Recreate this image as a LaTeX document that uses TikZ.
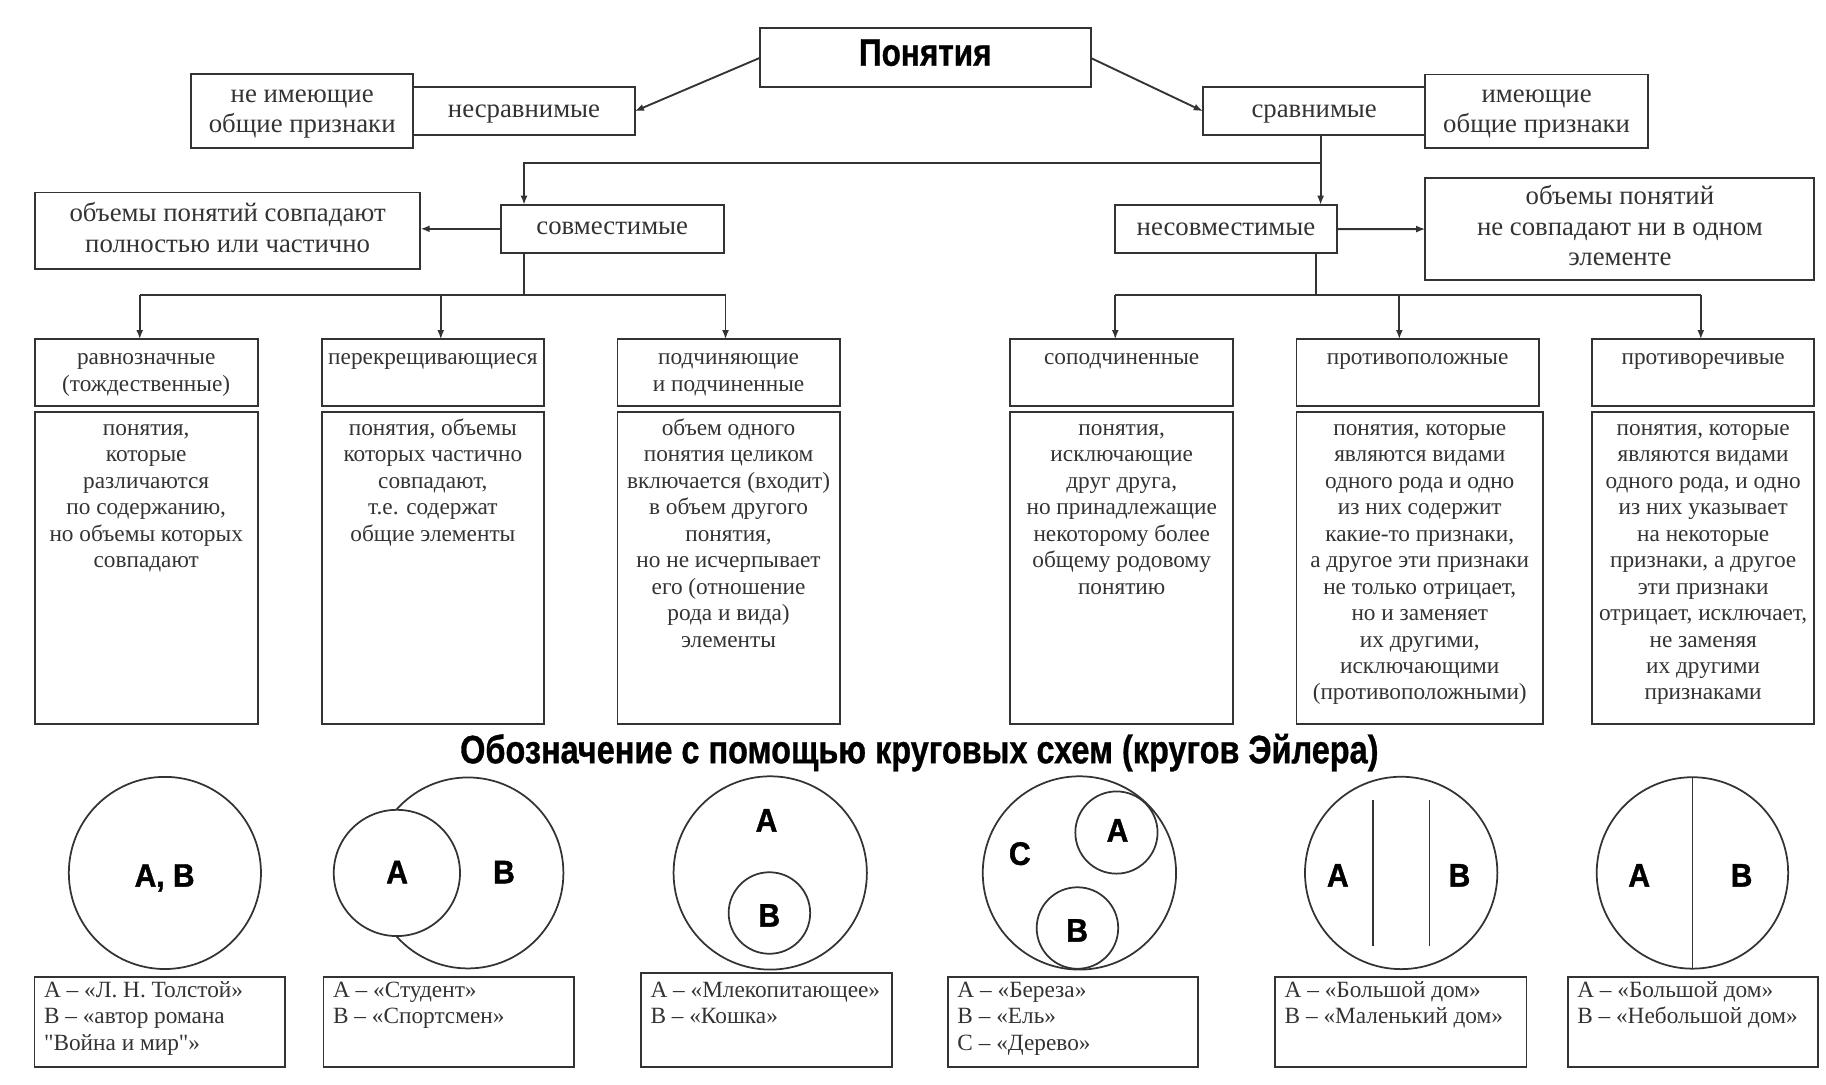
\documentclass[tikz,border=0pt]{standalone}
\usepackage{fontspec}
\setmainfont{Liberation Serif}[Ligatures=TeXOff]
\newfontfamily\condsans[FakeStretch=0.82, FakeBold=0.8]{Liberation Sans}
\newfontfamily\lettersans[FakeStretch=0.92, FakeBold=1.2]{Liberation Sans}
\usetikzlibrary{arrows.meta,positioning,calc}
\definecolor{ink}{HTML}{333333}
\newcommand{\bigtxt}{\fontsize{23}{26.2}\selectfont}
\newcommand{\smalltxt}{\fontsize{20}{22.7}\selectfont}
\newcommand{\tallline}{\rule{0pt}{18.3pt}}
\newcommand{\lowline}{\rule[-7.9pt]{0pt}{7.9pt}}
\newcommand{\smline}{\rule{0pt}{15.9pt}}

\begin{document}
\begin{tikzpicture}[
        x=1pt, y=-1pt,
        frame/.style={rectangle, draw=ink, line width=1.6pt, inner sep=0pt, outer sep=0pt, text=ink, align=center},
        topbox/.style={frame, font=\bigtxt},
        headbox/.style={frame, minimum height=57.2pt},
        bodybox/.style={frame, minimum height=268.5pt},
        capbox/.style={frame, minimum width=215pt, minimum height=77.4pt},
        boxtext/.style={anchor=north, inner sep=0pt, align=center, text=ink, font=\smalltxt},
        captext/.style={anchor=north west, inner sep=0pt, align=left, text=ink, font=\smalltxt},
        link/.style={draw=ink, line width=1.6pt},
        euler/.style={draw=ink, line width=1.5pt},
        letter/.style={font=\lettersans\bfseries\fontsize{28}{28}\selectfont, inner sep=0pt, text height=20pt, text depth=0pt},
        >={Latex[length=8pt,width=6pt]}
    ]
        \useasboundingbox (0,0) rectangle (1568,931);

        \node[frame, minimum width=284pt, minimum height=50.7pt, text=black, text height=23.5pt, text depth=10pt, font=\condsans\bfseries\fontsize{33}{33}\selectfont] (concept) at (794.5,49.7) {Понятия};
        \node[topbox, minimum width=190pt, minimum height=41pt] (incomp) at (450,95.5) {\tallline несравнимые\lowline};
        \node[topbox, minimum width=191pt, minimum height=63.5pt, left=0pt of incomp] (nocommon) {\tallline не имеющие\\общие признаки\lowline};
        \node[topbox, minimum width=191pt, minimum height=41pt] (comp) at (1128.5,95.5) {\tallline сравнимые\lowline};
        \node[topbox, minimum width=191pt, minimum height=63pt, right=0pt of comp] (common) {\tallline имеющие\\общие признаки\lowline};

        \node[topbox, minimum width=191.5pt, minimum height=41pt] (joint) at (525.75,196.5) {\tallline совместимые\lowline};
        \node[topbox, minimum width=331pt, minimum height=66pt] (jointdef) at (195.5,198.35) {\tallline объемы понятий совпадают\\полностью или частично\lowline};
        \node[topbox, minimum width=190.5pt, minimum height=41.5pt] (disjoint) at (1052.75,196.75) {\tallline несовместимые\lowline};
        \node[topbox, minimum width=334pt, minimum height=87.4pt] (disjointdef) at (1391,196.7) {\tallline объемы понятий\\не совпадают ни в одном\\элементе\lowline};

        \draw[link,->] (concept.west) -- (incomp.east);
        \draw[link,->] (concept.east) -- (comp.west);

        \coordinate (compsplit) at (1134,139.7);
        \coordinate (jointin) at (450,139.7);
        \draw[link] (compsplit |- comp.south) -- (compsplit);
        \draw[link,->] (compsplit) -- (compsplit |- disjoint.north);
        \draw[link,->] (compsplit) -- (jointin) -- (jointin |- joint.north);
        \draw[link,->] (joint.west) -- (joint.west -| jointdef.east);
        \draw[link,->] (disjoint.east) -- (disjointdef.west);

        \node[headbox, minimum width=191.3pt] (equal) at (125.55,320) {};
        \node[headbox, minimum width=191pt] (cross) at (371.7,320) {};
        \node[headbox, minimum width=190.8pt] (sub) at (625.6,320) {};
        \node[headbox, minimum width=191.2pt] (cosub) at (963.2,320) {};
        \node[headbox, minimum width=208pt] (opp) at (1217.3,320) {};
        \node[headbox, minimum width=191pt] (contra) at (1462.5,320) {};

        \node[boxtext] (equalt) at ($(equal.north)+(0,5.8)$) {\smline равнозначные\\(тождественные)};
        \node[boxtext] (crosst) at ($(cross.north)+(0,5.8)$) {\smline перекрещивающиеся};
        \node[boxtext] (subt) at ($(sub.north)+(0,5.8)$) {\smline подчиняющие\\и подчиненные};
        \node[boxtext] (cosubt) at ($(cosub.north)+(0,5.8)$) {\smline соподчиненные};
        \node[boxtext] (oppt) at ($(opp.north)+(0,5.8)$) {\smline противоположные};
        \node[boxtext] (contrat) at ($(contra.north)+(0,5.8)$) {\smline противоречивые};

        \coordinate (jointsplit) at (450,253.3);
        \coordinate (b1) at (120,253.3);
        \coordinate (b2) at (378.5,253.3);
        \coordinate (b3) at (623,253.3);
        \draw[link] (jointsplit |- joint.south) -- (jointsplit);
        \draw[link] (b1) -- (b3);
        \draw[link,->] (b1) -- (b1 |- equal.north);
        \draw[link,->] (b2) -- (b2 |- cross.north);
        \draw[link,->] (b3) -- (b3 |- sub.north);

        \coordinate (disjsplit) at (1130.4,253.3);
        \coordinate (b4) at (957.7,253.3);
        \coordinate (b5) at (1201.6,253.3);
        \coordinate (b6) at (1460.5,253.3);
        \draw[link] (disjsplit |- disjoint.south) -- (disjsplit);
        \draw[link] (b4) -- (b6);
        \draw[link,->] (b4) -- (b4 |- cosub.north);
        \draw[link,->] (b5) -- (b5 |- opp.north);
        \draw[link,->] (b6) -- (b6 |- contra.north);

        \node[bodybox, minimum width=191.3pt] (equalb) at (125.55,487.75) {};
        \node[bodybox, minimum width=191pt] (crossb) at (371.7,487.75) {};
        \node[bodybox, minimum width=190.8pt] (subb) at (625.6,487.75) {};
        \node[bodybox, minimum width=191.2pt] (cosubb) at (963.2,487.75) {};
        \node[bodybox, minimum width=211.7pt] (oppb) at (1219.15,487.75) {};
        \node[bodybox, minimum width=191pt] (contrab) at (1462.5,487.75) {};

        \node[boxtext] (equalbt) at ($(equalb.north)+(0,4.4)$) {\smline понятия,\\которые\\различаются\\по содержанию,\\но объемы которых\\совпадают};
        \node[boxtext] (crossbt) at ($(crossb.north)+(0,4.4)$) {\smline понятия, объемы\\которых частично\\совпадают,\\т.е. содержат\\общие элементы};
        \node[boxtext] (subbt) at ($(subb.north)+(0,4.4)$) {\smline объем одного\\понятия целиком\\включается (входит)\\в объем другого\\понятия,\\но не исчерпывает\\его (отношение\\рода и вида)\\элементы};
        \node[boxtext] (cosubbt) at ($(cosubb.north)+(0,4.4)$) {\smline понятия,\\исключающие\\друг друга,\\но принадлежащие\\некоторому более\\общему родовому\\понятию};
        \node[boxtext] (oppbt) at ($(oppb.north)+(0,4.4)$) {\smline понятия, которые\\являются видами\\одного рода и одно\\из них содержит\\какие-то признаки,\\а другое эти признаки\\не только отрицает,\\но и заменяет\\их другими,\\исключающими\\(противоположными)};
        \node[boxtext] (contrabt) at ($(contrab.north)+(0,4.4)$) {\smline понятия, которые\\являются видами\\одного рода, и одно\\из них указывает\\на некоторые\\признаки, а другое\\эти признаки\\отрицает, исключает,\\не заменяя\\их другими\\признаками};

        \node[anchor=base, inner sep=0pt, font=\condsans\bfseries\fontsize{34}{34}\selectfont] (eulerhead) at (789.4,655.4) {Обозначение с помощью круговых схем (кругов Эйлера)};

        \draw[euler] (141.6,749.6) circle[radius=82.5pt];
        \draw[euler] (401.8,749.6) circle[radius=82pt];
        \filldraw[euler, fill=white] (340.8,749.6) circle[radius=54.2pt];
        \draw[euler] (661.4,749.6) circle[radius=83pt];
        \draw[euler] (660.7,784) circle[radius=35pt];
        \draw[euler] (926.9,749.6) circle[radius=83pt];
        \draw[euler] (958.7,714.9) circle[radius=35.3pt];
        \draw[euler] (925.2,796.9) circle[radius=35pt];
        \draw[euler] (1203.2,749.6) circle[radius=82.6pt];
        \draw[euler] (1178.7,686.9) -- (1178.7,812.3);
        \draw[euler] (1227.4,686.9) -- (1227.4,812.3);
        \draw[euler] (1453.3,749.6) circle[radius=82.2pt];
        \draw[euler] (1453.3,667.4) -- (1453.3,831.8);

        \node[letter] (ab) at (141.4,751.4) {A, B};
        \node[letter] (a2) at (341,748.5) {A};
        \node[letter] (b2l) at (432.8,748.5) {B};
        \node[letter] (a3) at (658.2,704.1) {A};
        \node[letter] (b3l) at (660.6,785.7) {B};
        \node[letter] (c4) at (875.7,732.7) {C};
        \node[letter] (a4) at (959.6,712.7) {A};
        \node[letter] (b4l) at (925,798.6) {B};
        \node[letter] (a5) at (1148.8,751.3) {A};
        \node[letter] (b5l) at (1253.3,751.3) {B};
        \node[letter] (a6) at (1407.6,751.3) {A};
        \node[letter] (b6l) at (1495.5,751.3) {B};

        \node[capbox] (cap1) at (137.1,877.3) {};
        \node[capbox, minimum width=215.1pt] (cap2) at (385.35,877.3) {};
        \node[capbox, minimum width=215.2pt, minimum height=80.8pt] (cap3) at (658,875.6) {};
        \node[capbox] (cap4) at (921.5,877.3) {};
        \node[capbox, minimum width=215.8pt] (cap5) at (1202.9,877.3) {};
        \node[capbox, minimum width=215.1pt] (cap6) at (1453.75,877.3) {};

        \node[captext] (cap1t) at ($(cap1.north west)+(8,1.6)$) {\smline A – «Л. Н. Толстой»\\B – «автор романа\\"Война и мир"»};
        \node[captext] (cap2t) at ($(cap2.north west)+(8,1.6)$) {\smline A – «Студент»\\B – «Спортсмен»};
        \node[captext] (cap3t) at ($(cap3.north west)+(8,5)$) {\smline A – «Млекопитающее»\\B – «Кошка»};
        \node[captext] (cap4t) at ($(cap4.north west)+(8,1.6)$) {\smline A – «Береза»\\B – «Ель»\\C – «Дерево»};
        \node[captext] (cap5t) at ($(cap5.north west)+(8,1.6)$) {\smline A – «Большой дом»\\B – «Маленький дом»};
        \node[captext] (cap6t) at ($(cap6.north west)+(8,1.6)$) {\smline A – «Большой дом»\\B – «Небольшой дом»};
    \end{tikzpicture}
\end{document}
